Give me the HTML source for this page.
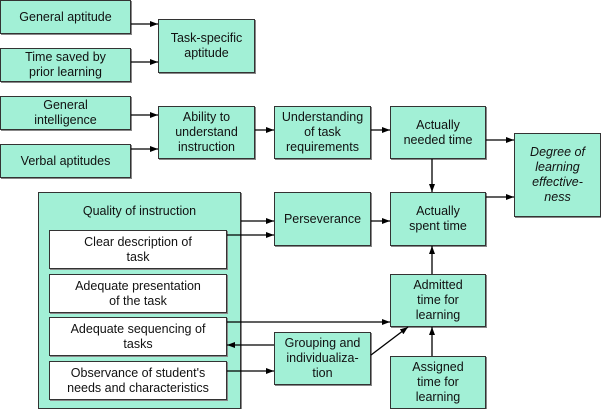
<!DOCTYPE html>
<html><head><style>
body{margin:0;width:601px;height:409px;background:#fff;position:relative;font-family:"Liberation Sans",sans-serif;font-size:12.5px;color:#111;overflow:hidden}
.b{position:absolute;background:#a2f0d6;border:1.5px solid #333;box-sizing:border-box;display:flex;align-items:center;justify-content:center;text-align:center;line-height:15px;box-shadow:1px 1px 0 #888}
.w{background:#fff}
svg{position:absolute;left:0;top:0}
</style></head><body>
<div class="b" style="left:0;top:0;width:131px;height:34px">General aptitude</div>
<div class="b" style="left:0;top:48px;width:131px;height:34px">Time saved by<br>prior learning</div>
<div class="b" style="left:158px;top:19px;width:97px;height:54px">Task-specific<br>aptitude</div>
<div class="b" style="left:0;top:96px;width:131px;height:34px">General<br>intelligence</div>
<div class="b" style="left:0;top:144px;width:131px;height:34px">Verbal aptitudes</div>
<div class="b" style="left:158px;top:106px;width:97px;height:53px">Ability to<br>understand<br>instruction</div>
<div class="b" style="left:274px;top:106px;width:97px;height:53px">Understanding<br>of task<br>requirements</div>
<div class="b" style="left:390px;top:106px;width:96px;height:53px">Actually<br>needed time</div>
<div class="b" style="left:514px;top:133px;width:87px;height:84px;font-style:italic">Degree of<br>learning<br>effective-<br>ness</div>
<div class="b" style="left:38px;top:192px;width:203px;height:217px;align-items:flex-start;padding-top:11px">Quality of instruction</div>
<div class="b w" style="left:49px;top:230px;width:178px;height:39px">Clear description of<br>task</div>
<div class="b w" style="left:49px;top:274px;width:178px;height:39px">Adequate presentation<br>of the task</div>
<div class="b w" style="left:49px;top:317px;width:178px;height:39px">Adequate sequencing of<br>tasks</div>
<div class="b w" style="left:49px;top:361px;width:178px;height:39px">Observance of student's<br>needs and characteristics</div>
<div class="b" style="left:274px;top:192px;width:97px;height:54px">Perseverance</div>
<div class="b" style="left:390px;top:192px;width:96px;height:54px">Actually<br>spent time</div>
<div class="b" style="left:390px;top:274px;width:96px;height:53px">Admitted<br>time for<br>learning</div>
<div class="b" style="left:274px;top:332px;width:97px;height:53px">Grouping and<br>individualiza-<br>tion</div>
<div class="b" style="left:390px;top:356px;width:96px;height:53px">Assigned<br>time for<br>learning</div>
<svg width="601" height="409">
<defs><marker id="a" markerWidth="8" markerHeight="6" refX="8" refY="3" orient="auto" markerUnits="userSpaceOnUse"><path d="M0,0L8,3L0,6z" fill="#000"/></marker></defs>
<g stroke="#000" stroke-width="1.3" fill="none" marker-end="url(#a)">
<line x1="131" y1="24" x2="158" y2="24"/>
<line x1="131" y1="62" x2="158" y2="62"/>
<line x1="131" y1="115" x2="158" y2="115"/>
<line x1="131" y1="149" x2="158" y2="149"/>
<line x1="255" y1="130" x2="274" y2="130"/>
<line x1="371" y1="130" x2="390" y2="130"/>
<line x1="486" y1="140" x2="514" y2="140"/>
<line x1="432" y1="159" x2="432" y2="192"/>
<line x1="486" y1="197" x2="514" y2="197"/>
<line x1="241" y1="221" x2="274" y2="221"/>
<line x1="227" y1="235" x2="274" y2="235"/>
<line x1="371" y1="221" x2="390" y2="221"/>
<line x1="432" y1="274" x2="432" y2="246"/>
<line x1="227" y1="322" x2="390" y2="322"/>
<line x1="274" y1="345" x2="227" y2="345"/>
<line x1="227" y1="371" x2="274" y2="371"/>
<line x1="371" y1="355" x2="408" y2="327"/>
<line x1="432" y1="356" x2="432" y2="327"/>
</g></svg>
</body></html>
